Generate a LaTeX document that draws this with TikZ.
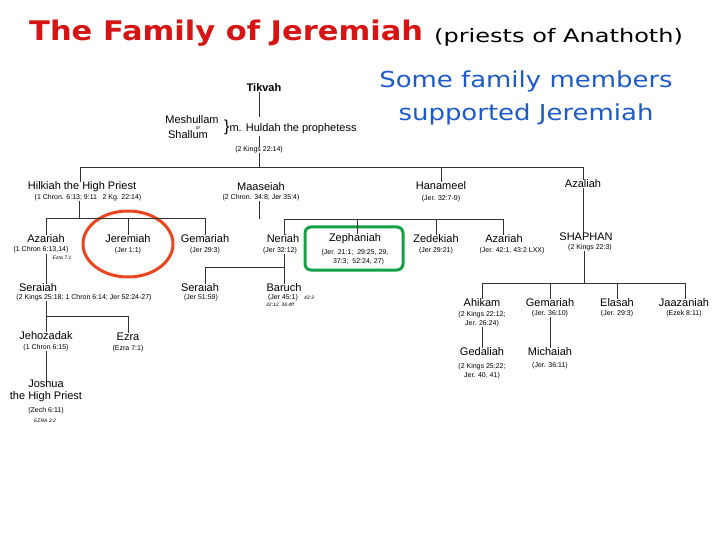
\documentclass[tikz,border=0pt]{standalone}
\usepackage{fontspec}
\setmainfont{Liberation Sans}
\newfontfamily\ttla[FakeStretch=1.13]{DejaVu Sans}
\newfontfamily\ttlb[FakeStretch=1.3]{DejaVu Sans}
\newfontfamily\ttlc[FakeStretch=1.18]{DejaVu Sans}
\definecolor{tred}{RGB}{215,20,20}
\definecolor{tblue}{RGB}{30,90,200}
\definecolor{cred}{RGB}{235,70,30}
\definecolor{cgreen}{RGB}{20,160,70}
\begin{document}
\begin{tikzpicture}[x=1pt,y=-1pt,
  nm/.style={inner sep=0pt,font=\fontsize{11}{12}\selectfont},
  ct/.style={inner sep=0pt,font=\fontsize{7}{9}\selectfont,align=center},
  sm/.style={inner sep=0pt,font=\fontsize{5}{5.5}\selectfont\itshape,align=left},
  ln/.style={draw=black!80,line width=0.8pt}]
\useasboundingbox[fill=white] (0,0) rectangle (720,540);
% titles
\node[inner sep=0pt,anchor=west,text=tred,font=\ttla\bfseries\fontsize{27}{30}\selectfont] (t1) at (29,33) {The Family of Jeremiah};
\node[inner sep=0pt,anchor=west,font=\ttlb\fontsize{18.5}{20}\selectfont] (t2) at (434,37) {(priests of Anathoth)};
\node[inner sep=0pt,align=center,text=tblue,font=\ttlc\fontsize{22}{33}\selectfont] (t3) at (526,98) {Some family members\\supported Jeremiah};
% nodes
\node[nm,font=\bfseries\fontsize{11}{12}\selectfont] (tik) at (264,88) {Tikvah};
\node[nm,align=center] (mes) at (192,120) {Meshullam};
\node[nm,align=center] (shl) at (188,135) {Shallum};
\node[sm] (or) at (198,128.5) {or};
\node[nm,anchor=west] (hul) at (224,127) {{\fontsize{16}{16}\selectfont\}}m. Huldah the prophetess};
\node[ct] (hulc) at (259,150) {(2 Kings 22:14)};
\node[nm] (hil) at (82,187) {Hilkiah the High Priest};
\node[ct] (hilc) at (88,198) {(1 Chron. 6:13; 9:11 \enspace 2 Kg. 22:14)};
\node[nm] (maa) at (261,187) {Maaseiah};
\node[ct] (maac) at (261,198) {(2 Chron. 34:8; Jer 35:4)};
\node[nm] (han) at (441,186) {Hanameel};
\node[ct] (hanc) at (441,199) {(Jer. 32:7-9)};
\node[nm] (aza) at (583,184) {Azaliah};
\node[nm] (azr) at (46,239) {Azariah};
\node[ct] (azrc) at (41,250) {(1 Chron 6:13,14)};
\node[sm] (azrs) at (62,258) {Ezra 7:1};
\node[nm] (jer) at (128,239) {Jeremiah};
\node[ct] (jerc) at (128,251) {(Jer 1:1)};
\node[nm] (gem) at (205,239) {Gemariah};
\node[ct] (gemc) at (205,251) {(Jer 29:3)};
\node[nm] (ner) at (283,239) {Neriah};
\node[ct] (nerc) at (280,251) {(Jer 32:12)};
\node[nm] (zep) at (355,239) {Zephaniah};
\node[ct] (zepc) at (355,257) {(Jer. 21:1; \ 29:25, 29,\\ \quad 37:3; \ 52:24, 27)};
\node[nm] (zed) at (436,239) {Zedekiah};
\node[ct] (zedc) at (436,251) {(Jer 29:21)};
\node[nm] (azb) at (504,239) {Azariah};
\node[ct] (azbc) at (512,251) {(Jer. 42:1, 43:2 LXX)};
\node[nm] (sha) at (586,237) {SHAPHAN};
\node[ct] (shac) at (590,248) {(2 Kings 22:3)};
\node[nm] (ser) at (38,288) {Seraiah};
\node[ct] (serc) at (84,298) {(2 Kings 25:18; 1 Chron 6:14; Jer 52:24-27)};
\node[nm] (ser2) at (200,288) {Seraiah};
\node[ct] (ser2c) at (201,298) {(Jer 51:59)};
\node[nm] (bar) at (284,288) {Baruch};
\node[ct] (barc) at (283,298) {(Jer 45:1)};
\node[sm,anchor=west] (bars) at (304,297.5) {43:3};
\node[sm,anchor=west] (bars2) at (266,305.5) {32:12, 36:4ff};
\node[nm] (jeh) at (46,336) {Jehozadak};
\node[ct] (jehc) at (46,348) {(1 Chron 6:15)};
\node[nm] (ezr) at (128,337) {Ezra};
\node[ct] (ezrc) at (128,349) {(Ezra 7:1)};
\node[nm,align=center] (jos) at (46,391) {Joshua\\the High Priest};
\node[ct] (josc) at (46,411) {(Zech 6:11)};
\node[sm] (joss) at (45,421) {EZRA 3:2};
\node[nm] (ahi) at (482,303) {Ahikam};
\node[ct] (ahic) at (482,319.5) {(2 Kings 22:12;\\Jer. 26:24)};
\node[nm] (gm2) at (550,303) {Gemariah};
\node[ct] (gm2c) at (550,314) {(Jer. 36:10)};
\node[nm] (ela) at (617,303) {Elasah};
\node[ct] (elac) at (617,314) {(Jer. 29:3)};
\node[nm] (jaa) at (684,303) {Jaazaniah};
\node[ct] (jaac) at (684,314) {(Ezek 8:11)};
\node[nm] (ged) at (482,352) {Gedaliah};
\node[ct] (gedc) at (482,371.5) {(2 Kings 25:22;\\Jer. 40, 41)};
\node[nm] (mic) at (550,352) {Michaiah};
\node[ct] (micc) at (550,366) {(Jer. 36:11)};
% highlights
\draw[cred,line width=3pt] (128,244) ellipse (45 and 33);
\draw[cgreen,line width=3pt,rounded corners=6pt] (305,227) rectangle (403,270);
% connectors
\draw[ln] (tik.south -| 259,0) -- (259,117);
\draw[ln] (259,136) -- (hulc.north -| 259,0);
\draw[ln] (hulc.south -| 259,0) -- (259,167);
\draw[ln] (hil.north -| 80,0) -- (80,167) -- (583,167) -- (aza.north -| 583,0);
\draw[ln] (han.north) -- (441,167);
% Hilkiah children
\draw[ln] (hilc.south -| 79,0) -- (79,218);
\draw[ln] (azr.north) -- (46,218) -- (205,218) -- (gem.north);
\draw[ln] (jer.north) -- (128,218);
% Maaseiah children
\draw[ln] (maac.south -| 259,0) -- (259,219);
\draw[ln] (ner.north -| 284,0) -- (284,219) -- (503,219) -- (azb.north -| 503,0);
\draw[ln] (zep.north -| 357,0) -- (357,219);
\draw[ln] (zed.north) -- (436,219);
\draw[ln] (aza.south -| 583,0) -- (sha.north -| 583,0);
% Azariah -> Seraiah
\draw[ln] (46,254) -- (ser.north -| 46,0);
\draw[ln] (nerc.south -| 284,0) -- (bar.north -| 284,0);
\draw[ln] (284,267) -- (205,267) -- (ser2.north -| 205,0);
% Seraiah children
\draw[ln] (serc.south -| 46,0) -- (jeh.north -| 46,0);
\draw[ln] (46,316) -- (128,316) -- (ezr.north);
\draw[ln] (jehc.south -| 46,0) -- (jos.north -| 46,0);
% Shaphan children
\draw[ln] (shac.south -| 584,0) -- (584,283);
\draw[ln] (ahi.north) -- (482,283) -- (685,283) -- (jaa.north -| 685,0);
\draw[ln] (gm2.north) -- (550,283);
\draw[ln] (ela.north) -- (617,283);
\draw[ln] (ahic.south) -- (ged.north);
\draw[ln] (gm2c.south) -- (mic.north);
\end{tikzpicture}
\end{document}
